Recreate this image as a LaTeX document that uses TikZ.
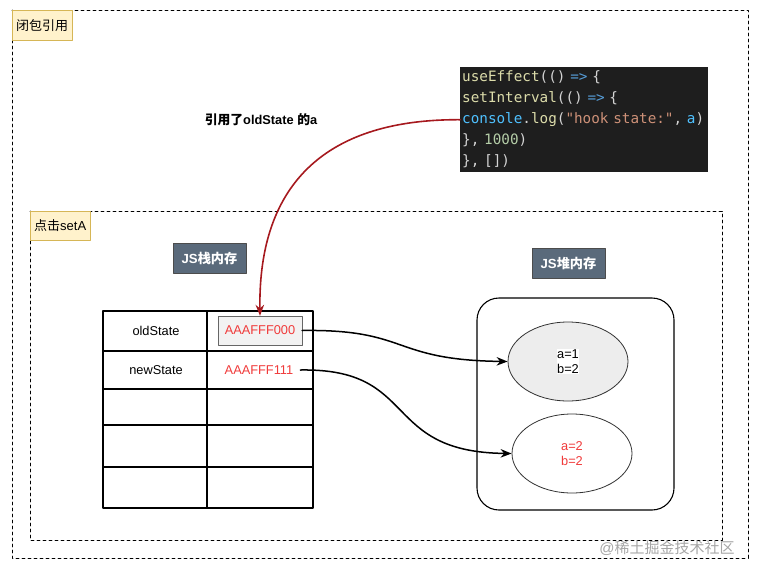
\documentclass[tikz,border=0pt]{standalone}
\usepackage{fontspec}
\setmainfont{Liberation Sans}
\newfontfamily\cjk{Noto Sans CJK SC}
\newfontfamily\codefont{DejaVu Sans Mono}
\usetikzlibrary{arrows.meta,shapes.geometric}
\definecolor{tagfill}{HTML}{FFF2CC}
\definecolor{tagline}{HTML}{D6B656}
\definecolor{memfill}{HTML}{5A6A7B}
\definecolor{refred}{HTML}{A6191E}
\definecolor{addrred}{HTML}{F03A3A}
\definecolor{codebg}{HTML}{1E1E1E}
\definecolor{cfn}{HTML}{DCDCAA}
\definecolor{ckw}{HTML}{569CD6}
\definecolor{cvar}{HTML}{4FC1FF}
\definecolor{cstr}{HTML}{CE9178}
\definecolor{cnum}{HTML}{B5CEA8}
\definecolor{cplain}{HTML}{D4D4D4}
\begin{document}
\begin{tikzpicture}[x=1pt,y=-1pt,line cap=round,line join=round,
  frame/.style={draw,dash pattern=on 3pt off 3pt,line width=0.9pt},
  tag/.style={draw=tagline,fill=tagfill,anchor=north west,inner sep=0pt,minimum height=30,minimum width=60,font=\fontsize{13}{15}\selectfont},
  memtag/.style={draw=black!70,fill=memfill,text=white,inner sep=0pt,minimum width=73,minimum height=30,font=\fontsize{13.2}{15}\selectfont\bfseries},
  cell/.style={font=\fontsize{12.8}{15}\selectfont},
  addr/.style={cell,text=addrred},
  obj/.style={ellipse,draw=black!80,line width=0.8pt,minimum width=120,minimum height=79},
  link/.style={line width=1.5pt,-{Stealth[length=11pt,width=8.5pt]}}]
\useasboundingbox (0,0) rectangle (758,573);
\draw[frame] (12,10) rectangle (748,558);
\node[tag] (closure) at (12,10) {\cjk 闭包引用};
\draw[frame] (30,211) rectangle (722,540);
\node[tag,minimum height=29] (click) at (30,211) {{\cjk 点击}setA};
\node[fill=codebg,anchor=north west,minimum width=248,minimum height=105,inner sep=2pt,text width=244,align=left,
  font=\codefont\fontsize{14.3}{21}\selectfont,text=cplain] (code) at (460,67)
  {\textcolor{cfn}{useEffect}(() \textcolor{ckw}{=>} \{\\
   \textcolor{cfn}{setInterval}(() \textcolor{ckw}{=>} \{\\
   \textcolor{cvar}{console}.\textcolor{cfn}{log}(\textcolor{cstr}{"hook state:"}, \textcolor{cvar}{a})\\
   \}, \textcolor{cnum}{1000})\\
   \}, [])};
\node[font=\fontsize{12.8}{15}\selectfont\bfseries] (note) at (261,120) {{\cjk\bfseries 引用了}oldState {\cjk\bfseries 的}a};
\node[memtag] (stack) at (209.5,258) {JS{\cjk\bfseries 栈内存}};
\node[memtag] (heaplbl) at (568.5,263) {JS{\cjk\bfseries 堆内存}};
\draw[line width=1.5pt] (103,311) rectangle (313,508);
\draw[line width=1.5pt] (207,311) -- (207,508);
\foreach \y in {351,389,425,467}
  \draw[line width=1.5pt] (103,\y) -- (313,\y);
\node[cell] (old) at (156,331) {oldState};
\node[cell] (new) at (156,370) {newState};
\node[addr,draw=black!60,fill=black!5,minimum width=84,minimum height=29,inner sep=0pt] (addrold) at (260,330.5) {AAAFFF000};
\node[addr,inner xsep=7pt] (addrnew) at (259,370) {AAAFFF111};
\node[draw,line width=1.1pt,rounded corners=22,minimum width=197,minimum height=212] (heap) at (575.5,404) {};
\node[obj,fill=black!7] (obja) at (568,361.5) {};
\node[cell,fill=white,inner sep=0.5pt,align=center] (vala) at (obja) {a=1\\b=2};
\node[obj] (objb) at (572,453.5) {};
\node[cell,text=addrred,align=center] (valb) at (objb) {a=2\\b=2};
\draw[link,refred,line width=1.6pt] (code.west) .. controls (330,119) and (258,180) .. (addrold.north);
\draw[link] (addrold.east) .. controls (410,329) and (390,360) .. (obja.west);
\draw[link] (addrnew.east) .. controls (420,368) and (380,452) .. (objb.west);
\node[text=black!35,font=\fontsize{15}{17}\selectfont] (mark) at (667,548) {@{\cjk 稀土掘金技术社区}};
\end{tikzpicture}
\end{document}
